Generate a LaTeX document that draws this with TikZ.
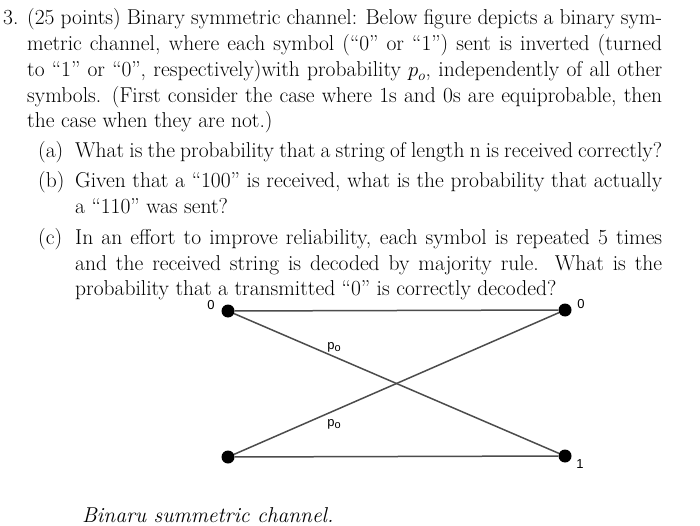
\documentclass[tikz,border=0pt]{standalone}
\usepackage{fontspec}
\newfontfamily\lblfont{Liberation Sans}
\begin{document}
\begin{tikzpicture}[x=1pt,y=-1pt,
  txt/.style={anchor=base west,inner sep=0pt,font=\fontsize{21.5}{24}\selectfont},
  dot/.style={circle,fill=black,inner sep=0pt,minimum size=13pt},
  lbl/.style={font=\lblfont\fontsize{13}{15}\selectfont,inner sep=1pt},
  wire/.style={draw=black!70,line width=1.5pt}]
\useasboundingbox[fill=white] (0,0) rectangle (700,526);
\node[txt] (n3) at (3,25) {3.};
\node[txt] (l1) at (27,25) {\hbox to 635pt{(25 points) Binary symmetric channel: Below figure depicts a binary sym-}};
\node[txt] (l2) at (27,51) {\hbox to 635pt{metric channel, where each symbol (“0” or “1”) sent is inverted (turned}};
\node[txt] (l3) at (27,77) {\hbox to 635pt{to “1” or “0”, respectively)with probability $p_o$, independently of all other}};
\node[txt] (l4) at (27,103) {\hbox to 635pt{symbols. (First consider the case where 1s and 0s are equiprobable, then}};
\node[txt] (l5) at (27,128) {the case when they are not.)};
\node[txt] (la) at (38,158) {(a)};
\node[txt] (ta) at (75,158) {\hbox to 587pt{What is the probability that a string of length n is received correctly?}};
\node[txt] (lb) at (38,188) {(b)};
\node[txt] (tb) at (75,188) {\hbox to 587pt{Given that a “100” is received, what is the probability that actually}};
\node[txt] (tb2) at (75,214) {a “110” was sent?};
\node[txt] (lc) at (38,244) {(c)};
\node[txt] (tc) at (75,244) {\hbox to 587pt{In an effort to improve reliability, each symbol is repeated 5 times}};
\node[txt] (tc2) at (75,270) {\hbox to 587pt{and the received string is decoded by majority rule. What is the}};
\node[txt] (tc3) at (75,295) {probability that a transmitted “0” is correctly decoded?};
\node[dot] (x0) at (228,311) {};
\node[dot] (x1) at (228,457) {};
\node[dot] (y0) at (565,310) {};
\node[dot] (y1) at (565,456) {};
\draw[wire] (x0) -- (y0);
\draw[wire] (x1) -- (y1);
\draw[wire] (x0) -- (y1);
\draw[wire] (x1) -- (y0);
\node[lbl] (a0) at (211,305) {0};
\node[lbl] (b0) at (581,304) {0};
\node[lbl] (b1) at (580,464) {1};
\node[lbl] (p1) at (334,347) {p\raisebox{-2pt}{\fontsize{11}{12}\selectfont o}};
\node[lbl] (p2) at (334,424) {p\raisebox{-2pt}{\fontsize{11}{12}\selectfont o}};
\node[txt,font=\fontsize{21.5}{24}\selectfont\itshape] (cap) at (82,522) {Binaru summetric channel.};
\end{tikzpicture}
\end{document}
